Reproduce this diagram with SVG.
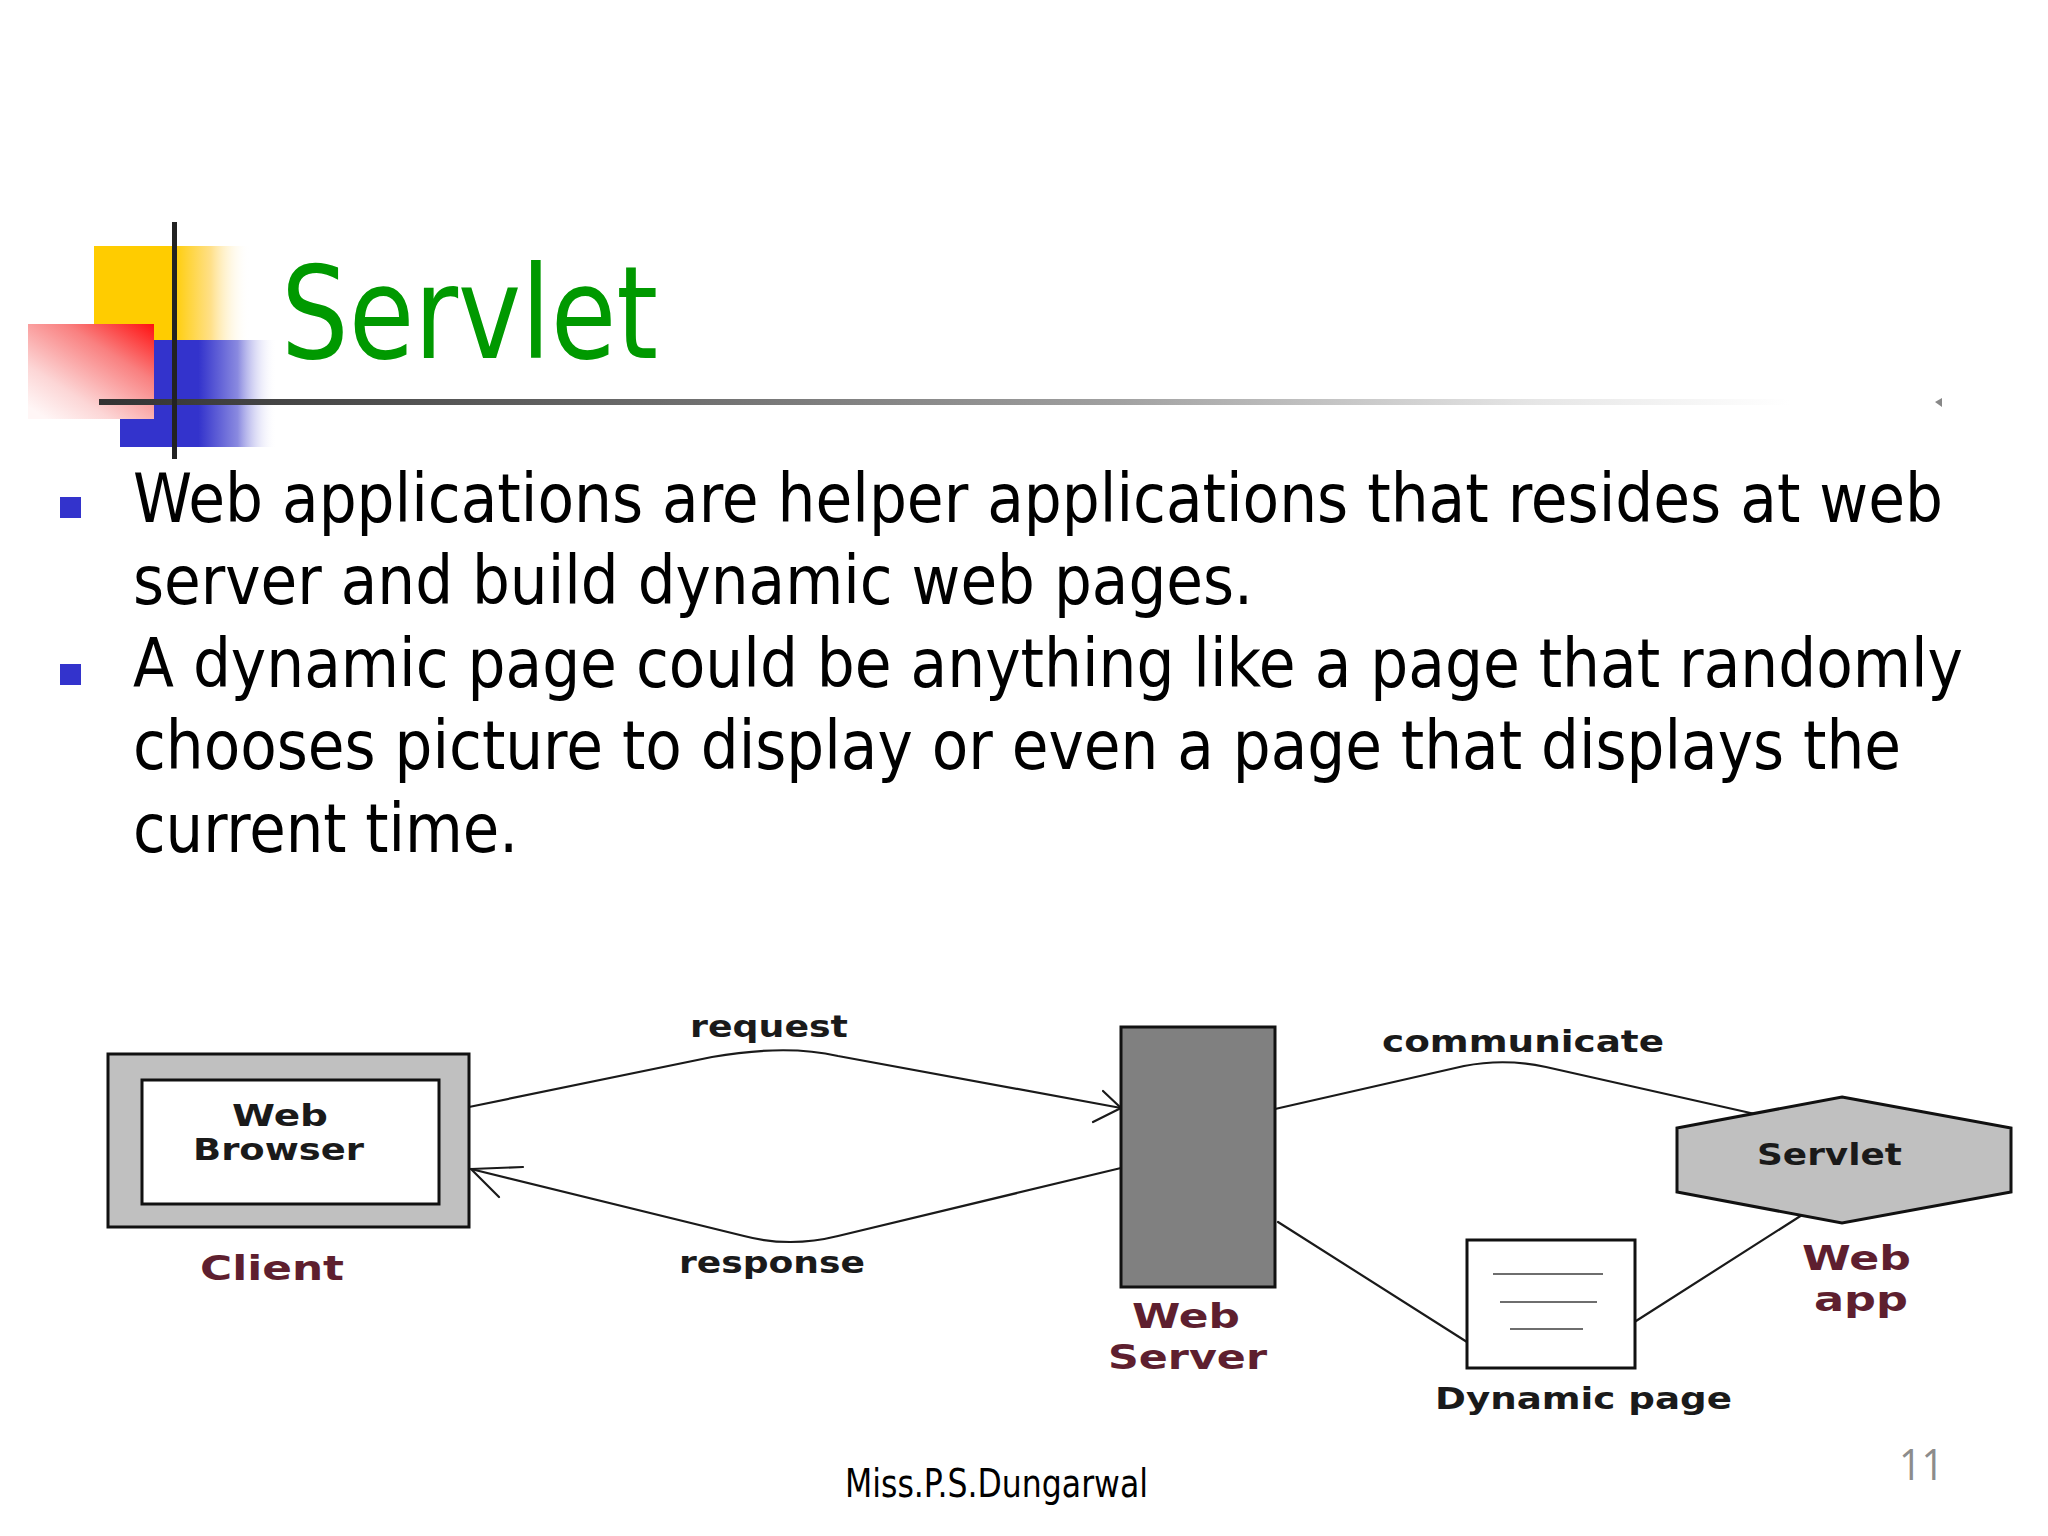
<svg xmlns="http://www.w3.org/2000/svg" width="2048" height="1536" viewBox="0 0 2048 1536">
<defs>
<linearGradient id="gYellow" x1="0" y1="0" x2="1" y2="0">
<stop offset="0" stop-color="#ffcc00"/>
<stop offset="0.5" stop-color="#ffcc00"/>
<stop offset="0.75" stop-color="#ffe08a"/>
<stop offset="1" stop-color="#ffffff" stop-opacity="0"/>
</linearGradient>
<linearGradient id="gBlue" x1="0" y1="0" x2="1" y2="0">
<stop offset="0" stop-color="#3333cc"/>
<stop offset="0.5" stop-color="#3333cc"/>
<stop offset="0.75" stop-color="#8a8ae0"/>
<stop offset="1" stop-color="#ffffff" stop-opacity="0"/>
</linearGradient>
<linearGradient id="gRed" x1="1" y1="0" x2="0.15" y2="1">
<stop offset="0" stop-color="#ff1010"/>
<stop offset="0.35" stop-color="#f98080"/>
<stop offset="0.75" stop-color="#fcd6d6"/>
<stop offset="1" stop-color="#fff6f6"/>
</linearGradient>
<linearGradient id="gRule" x1="0" y1="0" x2="1" y2="0">
<stop offset="0" stop-color="#333333"/>
<stop offset="0.3" stop-color="#666666"/>
<stop offset="0.6" stop-color="#a0a0a0"/>
<stop offset="0.85" stop-color="#e6e6e6"/>
<stop offset="1" stop-color="#ffffff"/>
</linearGradient>
<style>
.body{font-family:"DejaVu Sans Condensed","DejaVu Sans",sans-serif;font-size:67px;fill:#000}
.title{font-family:"DejaVu Sans Condensed","DejaVu Sans",sans-serif;font-size:128px;fill:#009900}
.lbl{font-family:"DejaVu Sans","Liberation Sans",sans-serif;font-weight:bold;font-size:30px;fill:#1a1a1a}
.mar{font-family:"DejaVu Sans","Liberation Sans",sans-serif;font-weight:bold;font-size:34px;fill:#5e1f2f}
.edge{fill:none;stroke:#1a1a1a;stroke-width:2.2;stroke-linejoin:round;stroke-linecap:round}
.box{stroke:#111;stroke-width:3}
.bullet{fill:#3333cc}
</style>
</defs>
<rect width="2048" height="1536" fill="#ffffff"/>

<g id="logo">
<rect x="94" y="246" width="156" height="144" fill="url(#gYellow)"/>
<rect x="120" y="340" width="157" height="107" fill="url(#gBlue)"/>
<rect x="28" y="324" width="126" height="95" fill="url(#gRed)"/>
<rect x="99" y="399" width="1691" height="6" fill="url(#gRule)"/>
<rect x="172" y="222" width="5" height="237" fill="#222222"/>
<path d="M1942,398 L1942,407 L1935,402 Z" fill="#888888"/>
</g>

<g id="title">
<text class="title" x="281" y="358" textLength="377" lengthAdjust="spacingAndGlyphs">Servlet</text>
</g>

<g id="bullets">
<rect class="bullet" x="60" y="497" width="21" height="21"/>
<rect class="bullet" x="60" y="664" width="21" height="21"/>
<text class="body" x="133" y="522" textLength="1810" lengthAdjust="spacingAndGlyphs">Web applications are helper applications that resides at web</text>
<text class="body" x="133" y="604" textLength="1120" lengthAdjust="spacingAndGlyphs">server and build dynamic web pages.</text>
<text class="body" x="133" y="687" textLength="1830" lengthAdjust="spacingAndGlyphs">A dynamic page could be anything like a page that randomly</text>
<text class="body" x="133" y="769" textLength="1768" lengthAdjust="spacingAndGlyphs">chooses picture to display or even a page that displays the</text>
<text class="body" x="133" y="852" textLength="385" lengthAdjust="spacingAndGlyphs">current time.</text>
</g>

<g id="connectors">
<path class="edge" d="M469,1107 L712,1057 Q786,1044 838,1056 L1121,1108"/>
<path class="edge" d="M1121,1108 L1103,1091 M1121,1108 L1093,1122"/>
<path class="edge" d="M1121,1168 L838,1236 Q790,1248 744,1236 L471,1169"/>
<path class="edge" d="M471,1169 L523,1167 M471,1169 L499,1197"/>
<path class="edge" d="M1275,1109 L1464,1066 Q1505,1058 1546,1067 L1755,1114"/>
<path class="edge" d="M1278,1222 L1467,1342"/>
<path class="edge" d="M1636,1321 L1802,1215"/>
<text class="lbl" x="690" y="1037" textLength="158" lengthAdjust="spacingAndGlyphs">request</text>
<text class="lbl" x="679" y="1273" textLength="186" lengthAdjust="spacingAndGlyphs">response</text>
<text class="lbl" x="1382" y="1052" textLength="282" lengthAdjust="spacingAndGlyphs">communicate</text>
</g>

<g id="node-client">
<rect class="box" x="108" y="1054" width="361" height="173" fill="#c0c0c0"/>
<rect class="box" x="142" y="1080" width="297" height="124" fill="#ffffff"/>
<text class="lbl" x="232" y="1126" textLength="96" lengthAdjust="spacingAndGlyphs">Web</text>
<text class="lbl" x="193" y="1160" textLength="171" lengthAdjust="spacingAndGlyphs">Browser</text>
<text class="mar" x="200" y="1280" textLength="144" lengthAdjust="spacingAndGlyphs">Client</text>
</g>

<g id="node-webserver">
<rect class="box" x="1121" y="1027" width="154" height="260" fill="#808080"/>
<text class="mar" x="1132" y="1328" textLength="108" lengthAdjust="spacingAndGlyphs">Web</text>
<text class="mar" x="1108" y="1369" textLength="159" lengthAdjust="spacingAndGlyphs">Server</text>
</g>

<g id="node-servlet">
<polygon class="box" points="1842,1097 2011,1128 2011,1192 1842,1223 1677,1192 1677,1128" fill="#c0c0c0"/>
<text class="lbl" x="1757" y="1165" textLength="145" lengthAdjust="spacingAndGlyphs">Servlet</text>
<text class="mar" x="1802" y="1270" textLength="109" lengthAdjust="spacingAndGlyphs">Web</text>
<text class="mar" x="1814" y="1311" textLength="94" lengthAdjust="spacingAndGlyphs">app</text>
</g>

<g id="node-dynamic-page">
<rect class="box" x="1467" y="1240" width="168" height="128" fill="#ffffff"/>
<path d="M1493,1274 H1603 M1500,1302 H1597 M1510,1329 H1583" stroke="#6e6e6e" stroke-width="2.2" fill="none"/>
<text class="lbl" x="1435" y="1409" textLength="297" lengthAdjust="spacingAndGlyphs">Dynamic page</text>
</g>

<g id="footer">
<text x="845" y="1497" font-family="'DejaVu Sans Condensed','DejaVu Sans',sans-serif" font-size="39" fill="#000" textLength="303" lengthAdjust="spacingAndGlyphs">Miss.P.S.Dungarwal</text>
<text x="1899" y="1480" font-family="'Open Sans','Liberation Sans',sans-serif" font-size="44" fill="#8c8c8c" textLength="45" lengthAdjust="spacingAndGlyphs">11</text>
</g>
</svg>
